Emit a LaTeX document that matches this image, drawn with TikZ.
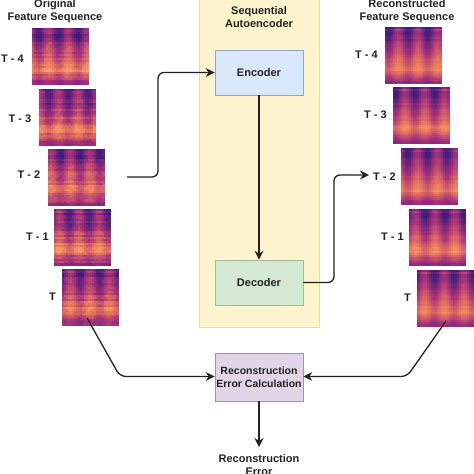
\documentclass[tikz,border=0pt]{standalone}
\usepackage{fontspec}
\setmainfont{Liberation Sans}
\usetikzlibrary{arrows.meta,positioning}
\definecolor{ainkc}{HTML}{222222}
\definecolor{ayellow}{HTML}{FDF3CD}
\definecolor{ayellowb}{HTML}{E6DDA8}
\definecolor{ablue}{HTML}{DAE8FC}
\definecolor{ablueb}{HTML}{8FA9C4}
\definecolor{agreen}{HTML}{D5E8D4}
\definecolor{agreenb}{HTML}{9CBF8E}
\definecolor{apurple}{HTML}{E1D5E7}
\definecolor{apurpleb}{HTML}{A48FB4}
\definecolor{magA}{HTML}{3A1C7C}
\definecolor{magB}{HTML}{A8327A}
\definecolor{magC}{HTML}{F0805A}
\definecolor{magD}{HTML}{FCC98A}
% name, left x, top y, position of the dark stripe, noise
\newcommand{\spectro}[5]{
  \foreach \j in {0,...,27}{
    \pgfmathsetmacro\tt{(\j+.5)/28}
    \pgfmathsetmacro\rownoise{#5*(rnd-.5)}
    \foreach \i in {0,...,27}{
      \pgfmathsetmacro\xx{(\i+.5)/28}
      \pgfmathsetmacro\base{\tt<.76 ? 12+82*\tt : 74-(\tt-.76)*190}
      \pgfmathsetmacro\band{cos(360*(\xx-#4)/.35)}
      \pgfmathtruncatemacro\val{max(2,min(99,\base+(4+14*(1-\tt))*(\band<0 ? 1.3*\band : \band)+\rownoise+.5*#5*(rnd-.5)+(\tt<.07 && \tt>.03 ? 16 : 0)))}
      \ifnum\val<40
        \pgfmathtruncatemacro\pct{\val*2.5}\colorlet{cellc}{magB!\pct!magA}
      \else\ifnum\val<75
        \pgfmathtruncatemacro\pct{(\val-40)*2.857}\colorlet{cellc}{magC!\pct!magB}
      \else
        \pgfmathtruncatemacro\pct{(\val-75)*4}\colorlet{cellc}{magD!\pct!magC}
      \fi\fi
      \fill[cellc,draw=cellc,line width=.15pt] (#2+\i*2,#3+\j*2) rectangle ++(2,2);
    }
  }
  \node[imgbox,anchor=north west] (#1) at (#2,#3) {};
}
\begin{document}
\begin{tikzpicture}[
  x=1pt,y=-1pt,
  font=\fontsize{11}{13}\selectfont\bfseries,
  imgbox/.style={minimum width=56pt,minimum height=56pt,inner sep=0pt},
  lbl/.style={text=ainkc,align=center,inner sep=0pt},
  blk/.style={line width=0.7pt,minimum width=88pt,inner sep=0pt,align=center,text=ainkc},
  a/.style={-{Stealth[length=9pt,width=9pt,inset=3pt]},draw=ainkc,line width=1.3pt,rounded corners=6pt}
]
\useasboundingbox (0,0) rectangle (474,474);
\pgfmathsetseed{7}

\node[fill=ayellow,draw=ayellowb,line width=0.7pt,minimum width=120pt,minimum height=330pt,inner sep=0pt] (sae) at (259,162.5) {};

\spectro{origA}{32}{28}{.3}{18}
\spectro{origB}{39}{89}{.35}{18}
\spectro{origC}{48}{149}{.4}{18}
\spectro{origD}{54}{209}{.1}{18}
\spectro{origE}{62}{269}{.15}{16}
\spectro{recoA}{385}{27}{.24}{6}
\spectro{recoB}{393}{87}{.22}{6}
\spectro{recoC}{401}{148}{.3}{6}
\spectro{recoD}{409}{209}{.12}{6}
\spectro{recoE}{417}{270}{.14}{6}

\node[lbl] at (55,11) {Original\\Feature Sequence};
\node[lbl] at (407,11) {Reconstructed\\Feature Sequence};
\node[lbl] at (259,17.5) {Sequential\\Autoencoder};

\node[lbl,left=8pt of origA.west,yshift=-3pt] {T - 4};
\node[lbl,left=7.5pt of origB.west,yshift=-2pt] {T - 3};
\node[lbl,left=7.5pt of origC.west,yshift=3pt] {T - 2};
\node[lbl,left=5pt of origD.west] {T - 1};
\node[lbl,left=6pt of origE.west] {T};
\node[lbl,left=7pt of recoA.west] {T - 4};
\node[lbl,left=6pt of recoB.west] {T - 3};
\node[lbl,left=5pt of recoC.west] {T - 2};
\node[lbl,left=5pt of recoD.west] {T - 1};
\node[lbl,left=6pt of recoE.west] {T};

\node[blk,fill=ablue,draw=ablueb,minimum height=45pt] (enc) at (259,72.5) {Encoder};
\node[blk,fill=agreen,draw=agreenb,minimum height=45pt] (dec) at (259,282.5) {Decoder};
\node[blk,fill=apurple,draw=apurpleb,minimum height=48pt,font=\fontsize{10.5}{13}\selectfont\bfseries] (rec) at (259,377) {Reconstruction\\Error Calculation};
\node[lbl,below=53pt of rec] (err) {Reconstruction\\Error};
\coordinate (errIn) at (259,447);

\coordinate (origOut) at (127,177);
\coordinate (origTail) at (87,318);
\coordinate (recoTail) at (446,321);
\coordinate (recoIn) at (369,175);

\draw[a] (origOut) -- (158,177) -- (158,72.5) -- (enc.west);
\draw[a] (enc) -- (dec);
\draw[a] (dec.east) -- (334,282.5) -- (334,175) -- (recoIn);
\draw[a] (origTail) -- (120,376.5) -- (rec.west |- 0,376.5);
\draw[a] (recoTail) -- (407,376.5) -- (rec.east |- 0,376.5);
\draw[a] (rec) -- (errIn);
\end{tikzpicture}
\end{document}
